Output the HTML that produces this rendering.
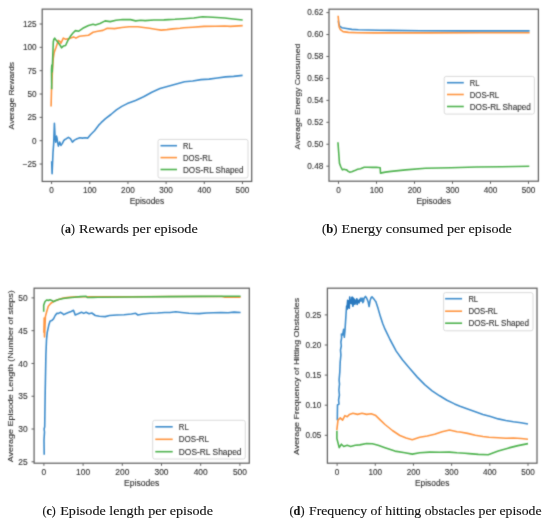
<!DOCTYPE html><html><head><meta charset="utf-8"><style>
html,body{margin:0;padding:0;background:#fff;}
body{width:550px;height:524px;overflow:hidden;}
svg{display:block;}
.t{font-family:"Liberation Sans", sans-serif;fill:#333;stroke:#333;stroke-width:0.12;}
.s{font-family:"Liberation Serif", serif;fill:#111;stroke:#111;stroke-width:0.12;}
</style></head><body>
<svg width="550" height="524" viewBox="0 0 550 524">
<defs><filter id="soft" x="0" y="0" width="550" height="524" filterUnits="userSpaceOnUse" color-interpolation-filters="sRGB"><feConvolveMatrix order="3" kernelMatrix="1 3 1 3 16 3 1 3 1" divisor="32" edgeMode="none"/></filter></defs>
<rect width="550" height="524" fill="#fff"/>
<g filter="url(#soft)">
<clipPath id="clipa"><rect x="42.20" y="9.15" width="209.50" height="172.30"/></clipPath>
<g clip-path="url(#clipa)" fill="none" stroke-width="1.60" stroke-linejoin="round" stroke-linecap="square">
<path d="M51.7,162.1 L52.1,173.8 L53.0,152.8 L53.7,143.4 L54.4,123.4 L55.0,135.4 L55.7,142.1 L56.4,136.1 L57.0,138.1 L57.7,142.8 L58.4,146.1 L59.7,142.1 L61.0,145.4 L62.4,143.4 L63.7,140.7 L65.1,139.4 L66.4,138.7 L68.4,137.4 L70.4,138.7 L72.4,142.1 L74.4,140.1 L77.1,138.7 L79.8,137.8 L82.4,138.1 L85.1,137.7 L87.8,138.1 L90.5,134.7 L94.5,130.7 L98.5,125.4 L101.1,122.7 L105.5,118.6 L110.9,114.5 L116.4,109.9 L121.8,106.4 L127.3,103.6 L135.5,100.4 L143.6,96.8 L151.8,92.2 L160.0,88.6 L168.2,86.2 L176.4,84.0 L184.5,81.8 L192.7,81.0 L200.9,79.6 L209.1,79.1 L217.3,78.0 L225.5,76.9 L233.6,76.4 L241.8,75.5" stroke="#3f8dcc"/>
<path d="M51.1,105.8 L51.5,90.0 L52.5,70.0 L53.3,58.0 L54.2,52.4 L55.9,47.8 L57.0,44.4 L58.2,40.4 L59.9,41.5 L61.0,43.2 L63.3,38.1 L65.6,39.2 L69.1,38.6 L73.6,36.9 L75.9,38.1 L79.4,36.3 L83.9,35.8 L88.5,35.2 L93.1,32.3 L97.7,31.2 L102.9,30.4 L107.3,28.2 L114.5,28.6 L121.8,27.5 L129.1,26.7 L137.8,26.7 L143.6,27.5 L149.5,28.2 L155.3,29.2 L161.1,30.1 L166.9,29.6 L172.7,28.9 L180.0,28.2 L183.7,27.7 L192.5,27.2 L204.1,26.4 L215.7,26.3 L224.5,26.0 L230.3,26.4 L241.9,25.7" stroke="#ff9540"/>
<path d="M51.7,88.5 L51.5,70.0 L51.8,65.0 L52.2,72.0 L52.8,55.0 L53.3,42.0 L53.8,39.5 L54.7,38.1 L55.5,39.5 L56.5,40.4 L58.7,43.2 L60.3,45.5 L61.6,47.8 L63.3,46.1 L65.6,45.5 L67.9,40.4 L70.8,35.8 L73.0,33.0 L75.4,30.6 L78.8,31.2 L82.8,28.3 L88.5,25.5 L93.1,24.3 L95.4,24.9 L100.0,23.5 L105.1,20.9 L110.2,21.6 L116.0,20.2 L122.5,19.5 L130.5,19.6 L135.6,20.9 L140.7,20.2 L145.1,20.6 L153.8,20.0 L164.0,19.9 L168.4,19.6 L175.0,19.3 L183.7,18.7 L193.9,18.0 L202.6,16.8 L212.8,17.3 L224.5,18.0 L233.2,19.0 L241.9,19.9" stroke="#4fb34f"/>
</g>
<rect x="42.20" y="9.15" width="209.50" height="172.30" fill="none" stroke="#616161" stroke-width="1.25"/>
<line x1="51.60" y1="181.45" x2="51.60" y2="184.05" stroke="#616161" stroke-width="1"/>
<text class="t" x="51.60" y="192.80" font-size="8.20" text-anchor="middle">0</text>
<line x1="89.77" y1="181.45" x2="89.77" y2="184.05" stroke="#616161" stroke-width="1"/>
<text class="t" x="89.77" y="192.80" font-size="8.20" text-anchor="middle">100</text>
<line x1="127.94" y1="181.45" x2="127.94" y2="184.05" stroke="#616161" stroke-width="1"/>
<text class="t" x="127.94" y="192.80" font-size="8.20" text-anchor="middle">200</text>
<line x1="166.11" y1="181.45" x2="166.11" y2="184.05" stroke="#616161" stroke-width="1"/>
<text class="t" x="166.11" y="192.80" font-size="8.20" text-anchor="middle">300</text>
<line x1="204.28" y1="181.45" x2="204.28" y2="184.05" stroke="#616161" stroke-width="1"/>
<text class="t" x="204.28" y="192.80" font-size="8.20" text-anchor="middle">400</text>
<line x1="242.45" y1="181.45" x2="242.45" y2="184.05" stroke="#616161" stroke-width="1"/>
<text class="t" x="242.45" y="192.80" font-size="8.20" text-anchor="middle">500</text>
<line x1="39.60" y1="164.04" x2="42.20" y2="164.04" stroke="#616161" stroke-width="1"/>
<text class="t" x="36.60" y="166.94" font-size="8.20" text-anchor="end">−25</text>
<line x1="39.60" y1="140.70" x2="42.20" y2="140.70" stroke="#616161" stroke-width="1"/>
<text class="t" x="36.60" y="143.60" font-size="8.20" text-anchor="end">0</text>
<line x1="39.60" y1="117.36" x2="42.20" y2="117.36" stroke="#616161" stroke-width="1"/>
<text class="t" x="36.60" y="120.26" font-size="8.20" text-anchor="end">25</text>
<line x1="39.60" y1="94.02" x2="42.20" y2="94.02" stroke="#616161" stroke-width="1"/>
<text class="t" x="36.60" y="96.92" font-size="8.20" text-anchor="end">50</text>
<line x1="39.60" y1="70.68" x2="42.20" y2="70.68" stroke="#616161" stroke-width="1"/>
<text class="t" x="36.60" y="73.58" font-size="8.20" text-anchor="end">75</text>
<line x1="39.60" y1="47.34" x2="42.20" y2="47.34" stroke="#616161" stroke-width="1"/>
<text class="t" x="36.60" y="50.24" font-size="8.20" text-anchor="end">100</text>
<line x1="39.60" y1="24.00" x2="42.20" y2="24.00" stroke="#616161" stroke-width="1"/>
<text class="t" x="36.60" y="26.90" font-size="8.20" text-anchor="end">125</text>
<text class="t" x="146.95" y="203.80" font-size="8.20" text-anchor="middle" textLength="34.47" lengthAdjust="spacingAndGlyphs">Episodes</text>
<text class="t" transform="translate(14.20 95.70) rotate(-90)" x="0" y="0" font-size="7.6" text-anchor="middle" textLength="67.4" lengthAdjust="spacingAndGlyphs">Average Rewards</text>
<rect x="158.00" y="139.40" width="90.00" height="38.60" rx="2" ry="2" fill="#fff" fill-opacity="0.8" stroke="#d6d6d6" stroke-width="0.9"/>
<line x1="160.50" y1="145.70" x2="177.00" y2="145.70" stroke="#3f8dcc" stroke-width="1.60"/>
<text class="t" x="183.00" y="148.70" font-size="8.20" textLength="9.62" lengthAdjust="spacingAndGlyphs">RL</text>
<line x1="160.50" y1="157.60" x2="177.00" y2="157.60" stroke="#ff9540" stroke-width="1.60"/>
<text class="t" x="183.00" y="160.60" font-size="8.20" textLength="29.23" lengthAdjust="spacingAndGlyphs">DOS-RL</text>
<line x1="160.50" y1="169.50" x2="177.00" y2="169.50" stroke="#4fb34f" stroke-width="1.60"/>
<text class="t" x="183.00" y="172.50" font-size="8.20" textLength="60.60" lengthAdjust="spacingAndGlyphs">DOS-RL Shaped</text>
<clipPath id="clipb"><rect x="329.00" y="9.20" width="209.40" height="172.00"/></clipPath>
<g clip-path="url(#clipb)" fill="none" stroke-width="1.60" stroke-linejoin="round" stroke-linecap="square">
<path d="M338.5,21.5 L338.7,23.1 L339.8,26.4 L342.0,27.7 L346.4,28.5 L351.8,29.4 L358.4,29.8 L368.2,30.0 L379.1,30.2 L390.0,30.4 L420.0,30.7 L460.0,30.9 L500.0,30.9 L528.8,30.9" stroke="#3f8dcc"/>
<path d="M338.2,16.5 L338.5,20.0 L338.7,24.2 L339.3,27.5 L340.4,29.6 L343.1,31.6 L348.5,32.4 L357.3,32.7 L373.6,32.9 L390.0,32.9 L430.0,32.9 L480.0,32.8 L528.8,32.8" stroke="#ff9540"/>
<path d="M338.0,143.0 L338.7,152.5 L339.5,163.4 L340.9,167.0 L342.4,169.9 L343.8,169.2 L345.3,169.6 L346.7,169.9 L348.2,171.4 L349.6,172.1 L351.8,171.7 L354.7,170.6 L357.6,169.2 L360.5,168.7 L364.2,167.3 L367.8,167.3 L372.2,167.4 L376.5,167.3 L380.2,167.7 L380.5,173.1 L385.3,172.1 L391.1,171.4 L398.4,170.6 L405.6,169.9 L425.4,168.3 L450.9,167.8 L476.3,167.0 L501.8,166.8 L528.5,166.3" stroke="#4fb34f"/>
</g>
<rect x="329.00" y="9.20" width="209.40" height="172.00" fill="none" stroke="#616161" stroke-width="1.25"/>
<line x1="338.50" y1="181.20" x2="338.50" y2="183.80" stroke="#616161" stroke-width="1"/>
<text class="t" x="338.50" y="192.80" font-size="8.23" text-anchor="middle">0</text>
<line x1="376.50" y1="181.20" x2="376.50" y2="183.80" stroke="#616161" stroke-width="1"/>
<text class="t" x="376.50" y="192.80" font-size="8.23" text-anchor="middle">100</text>
<line x1="414.50" y1="181.20" x2="414.50" y2="183.80" stroke="#616161" stroke-width="1"/>
<text class="t" x="414.50" y="192.80" font-size="8.23" text-anchor="middle">200</text>
<line x1="452.50" y1="181.20" x2="452.50" y2="183.80" stroke="#616161" stroke-width="1"/>
<text class="t" x="452.50" y="192.80" font-size="8.23" text-anchor="middle">300</text>
<line x1="490.50" y1="181.20" x2="490.50" y2="183.80" stroke="#616161" stroke-width="1"/>
<text class="t" x="490.50" y="192.80" font-size="8.23" text-anchor="middle">400</text>
<line x1="528.50" y1="181.20" x2="528.50" y2="183.80" stroke="#616161" stroke-width="1"/>
<text class="t" x="528.50" y="192.80" font-size="8.23" text-anchor="middle">500</text>
<line x1="326.40" y1="166.18" x2="329.00" y2="166.18" stroke="#616161" stroke-width="1"/>
<text class="t" x="323.30" y="168.68" font-size="8.23" text-anchor="end">0.48</text>
<line x1="326.40" y1="144.24" x2="329.00" y2="144.24" stroke="#616161" stroke-width="1"/>
<text class="t" x="323.30" y="146.74" font-size="8.23" text-anchor="end">0.50</text>
<line x1="326.40" y1="122.30" x2="329.00" y2="122.30" stroke="#616161" stroke-width="1"/>
<text class="t" x="323.30" y="124.80" font-size="8.23" text-anchor="end">0.52</text>
<line x1="326.40" y1="100.36" x2="329.00" y2="100.36" stroke="#616161" stroke-width="1"/>
<text class="t" x="323.30" y="102.86" font-size="8.23" text-anchor="end">0.54</text>
<line x1="326.40" y1="78.42" x2="329.00" y2="78.42" stroke="#616161" stroke-width="1"/>
<text class="t" x="323.30" y="80.92" font-size="8.23" text-anchor="end">0.56</text>
<line x1="326.40" y1="56.48" x2="329.00" y2="56.48" stroke="#616161" stroke-width="1"/>
<text class="t" x="323.30" y="58.98" font-size="8.23" text-anchor="end">0.58</text>
<line x1="326.40" y1="34.54" x2="329.00" y2="34.54" stroke="#616161" stroke-width="1"/>
<text class="t" x="323.30" y="37.04" font-size="8.23" text-anchor="end">0.60</text>
<line x1="326.40" y1="12.60" x2="329.00" y2="12.60" stroke="#616161" stroke-width="1"/>
<text class="t" x="323.30" y="15.10" font-size="8.23" text-anchor="end">0.62</text>
<text class="t" x="433.70" y="203.80" font-size="8.23" text-anchor="middle" textLength="34.61" lengthAdjust="spacingAndGlyphs">Episodes</text>
<text class="t" transform="translate(299.60 96.55) rotate(-90)" x="0" y="0" font-size="7.6" text-anchor="middle" textLength="105.8" lengthAdjust="spacingAndGlyphs">Average Energy Consumed</text>
<rect x="444.20" y="76.40" width="90.20" height="37.70" rx="2" ry="2" fill="#fff" fill-opacity="0.8" stroke="#d6d6d6" stroke-width="0.9"/>
<line x1="447.00" y1="82.70" x2="463.80" y2="82.70" stroke="#3f8dcc" stroke-width="1.60"/>
<text class="t" x="469.70" y="85.70" font-size="8.23" textLength="9.71" lengthAdjust="spacingAndGlyphs">RL</text>
<line x1="447.00" y1="94.50" x2="463.80" y2="94.50" stroke="#ff9540" stroke-width="1.60"/>
<text class="t" x="469.70" y="97.50" font-size="8.23" textLength="29.52" lengthAdjust="spacingAndGlyphs">DOS-RL</text>
<line x1="447.00" y1="106.50" x2="463.80" y2="106.50" stroke="#4fb34f" stroke-width="1.60"/>
<text class="t" x="469.70" y="109.50" font-size="8.23" textLength="61.20" lengthAdjust="spacingAndGlyphs">DOS-RL Shaped</text>
<clipPath id="clipc"><rect x="34.10" y="288.20" width="215.20" height="175.00"/></clipPath>
<g clip-path="url(#clipc)" fill="none" stroke-width="1.60" stroke-linejoin="round" stroke-linecap="square">
<path d="M44.2,454.0 L44.0,440.0 L44.5,432.0 L44.1,429.0 L44.7,426.8 L45.2,392.0 L45.9,354.8 L46.5,340.0 L47.2,332.7 L48.9,324.7 L50.0,321.2 L51.7,320.6 L53.5,318.9 L55.2,315.5 L56.9,313.2 L58.6,313.4 L60.3,312.3 L62.0,313.2 L63.8,314.6 L65.5,313.8 L68.4,312.6 L71.2,311.5 L73.5,310.3 L75.2,314.9 L78.1,313.8 L81.5,312.3 L83.8,313.4 L86.1,312.3 L89.0,313.8 L91.8,313.0 L95.3,315.5 L99.4,316.2 L105.2,316.6 L109.5,315.5 L116.8,315.0 L124.1,314.7 L131.4,314.0 L135.7,313.3 L137.9,315.0 L143.0,314.0 L150.3,313.3 L157.5,313.0 L164.8,312.5 L170.0,312.5 L175.8,311.8 L181.6,312.5 L188.9,313.3 L199.1,313.6 L206.4,313.0 L213.6,312.8 L220.9,312.5 L228.2,312.8 L234.0,312.1 L239.8,312.5" stroke="#3f8dcc"/>
<path d="M43.9,332.0 L44.2,318.0 L44.5,337.0 L45.0,326.0 L45.4,316.6 L46.6,312.0 L48.3,306.3 L50.6,303.5 L54.0,301.2 L58.6,299.5 L63.2,298.1 L68.9,297.4 L75.8,296.9 L83.8,296.7 L90.7,296.8 L98.0,296.9 L130.0,296.8 L170.0,296.5 L222.0,296.5 L225.0,297.2 L239.8,297.3" stroke="#ff9540"/>
<path d="M43.7,310.9 L43.7,305.2 L44.9,301.7 L46.6,300.0 L48.3,300.4 L50.0,299.7 L51.7,300.4 L53.5,301.7 L55.2,300.8 L58.6,299.5 L63.2,298.5 L68.9,297.7 L74.7,297.2 L80.4,296.6 L86.1,296.2 L87.3,297.5 L93.0,297.4 L98.0,297.3 L130.0,297.0 L170.0,296.6 L200.0,296.4 L239.8,296.3" stroke="#4fb34f"/>
</g>
<rect x="34.10" y="288.20" width="215.20" height="175.00" fill="none" stroke="#616161" stroke-width="1.25"/>
<line x1="43.90" y1="463.20" x2="43.90" y2="465.80" stroke="#616161" stroke-width="1"/>
<text class="t" x="43.90" y="474.80" font-size="8.41" text-anchor="middle">0</text>
<line x1="83.10" y1="463.20" x2="83.10" y2="465.80" stroke="#616161" stroke-width="1"/>
<text class="t" x="83.10" y="474.80" font-size="8.41" text-anchor="middle">100</text>
<line x1="122.30" y1="463.20" x2="122.30" y2="465.80" stroke="#616161" stroke-width="1"/>
<text class="t" x="122.30" y="474.80" font-size="8.41" text-anchor="middle">200</text>
<line x1="161.50" y1="463.20" x2="161.50" y2="465.80" stroke="#616161" stroke-width="1"/>
<text class="t" x="161.50" y="474.80" font-size="8.41" text-anchor="middle">300</text>
<line x1="200.70" y1="463.20" x2="200.70" y2="465.80" stroke="#616161" stroke-width="1"/>
<text class="t" x="200.70" y="474.80" font-size="8.41" text-anchor="middle">400</text>
<line x1="239.90" y1="463.20" x2="239.90" y2="465.80" stroke="#616161" stroke-width="1"/>
<text class="t" x="239.90" y="474.80" font-size="8.41" text-anchor="middle">500</text>
<line x1="31.50" y1="461.80" x2="34.10" y2="461.80" stroke="#616161" stroke-width="1"/>
<text class="t" x="27.60" y="465.00" font-size="8.41" text-anchor="end">25</text>
<line x1="31.50" y1="429.02" x2="34.10" y2="429.02" stroke="#616161" stroke-width="1"/>
<text class="t" x="27.60" y="432.22" font-size="8.41" text-anchor="end">30</text>
<line x1="31.50" y1="396.24" x2="34.10" y2="396.24" stroke="#616161" stroke-width="1"/>
<text class="t" x="27.60" y="399.44" font-size="8.41" text-anchor="end">35</text>
<line x1="31.50" y1="363.46" x2="34.10" y2="363.46" stroke="#616161" stroke-width="1"/>
<text class="t" x="27.60" y="366.66" font-size="8.41" text-anchor="end">40</text>
<line x1="31.50" y1="330.68" x2="34.10" y2="330.68" stroke="#616161" stroke-width="1"/>
<text class="t" x="27.60" y="333.88" font-size="8.41" text-anchor="end">45</text>
<line x1="31.50" y1="297.90" x2="34.10" y2="297.90" stroke="#616161" stroke-width="1"/>
<text class="t" x="27.60" y="301.10" font-size="8.41" text-anchor="end">50</text>
<text class="t" x="141.70" y="486.20" font-size="8.41" text-anchor="middle" textLength="35.36" lengthAdjust="spacingAndGlyphs">Episodes</text>
<text class="t" transform="translate(12.50 376.20) rotate(-90)" x="0" y="0" font-size="7.6" text-anchor="middle" textLength="172.0" lengthAdjust="spacingAndGlyphs">Average Episode Length (Number of steps)</text>
<rect x="152.70" y="420.30" width="92.60" height="38.70" rx="2" ry="2" fill="#fff" fill-opacity="0.8" stroke="#d6d6d6" stroke-width="0.9"/>
<line x1="155.30" y1="426.80" x2="172.70" y2="426.80" stroke="#3f8dcc" stroke-width="1.60"/>
<text class="t" x="178.80" y="429.80" font-size="8.41" textLength="9.95" lengthAdjust="spacingAndGlyphs">RL</text>
<line x1="155.30" y1="439.30" x2="172.70" y2="439.30" stroke="#ff9540" stroke-width="1.60"/>
<text class="t" x="178.80" y="442.30" font-size="8.41" textLength="30.24" lengthAdjust="spacingAndGlyphs">DOS-RL</text>
<line x1="155.30" y1="451.70" x2="172.70" y2="451.70" stroke="#4fb34f" stroke-width="1.60"/>
<text class="t" x="178.80" y="454.70" font-size="8.41" textLength="62.70" lengthAdjust="spacingAndGlyphs">DOS-RL Shaped</text>
<clipPath id="clipd"><rect x="327.40" y="288.20" width="209.60" height="175.00"/></clipPath>
<g clip-path="url(#clipd)" fill="none" stroke-width="1.60" stroke-linejoin="round" stroke-linecap="square">
<path d="M337.3,419.5 L337.5,405.0 L339.0,404.0 L338.6,400.0 L339.4,395.0 L338.9,390.0 L339.5,384.0 L339.1,380.0 L339.8,372.0 L340.2,362.0 L340.9,355.0 L340.5,350.0 L341.3,346.0 L340.9,342.0 L341.6,338.0 L341.4,334.0 L342.6,335.0 L343.7,329.2 L344.3,337.3 L344.9,331.5 L345.5,322.4 L346.0,314.7 L346.6,306.1 L347.1,309.1 L347.6,300.4 L348.1,307.7 L348.6,300.9 L349.3,308.1 L349.7,297.1 L350.3,303.3 L350.6,300.1 L351.3,303.5 L351.9,297.3 L352.2,304.0 L352.5,297.4 L352.9,306.2 L353.4,298.3 L354.0,304.1 L354.6,299.3 L355.1,304.0 L355.5,300.6 L356.2,302.7 L356.8,298.8 L357.2,304.5 L357.5,300.0 L358.0,302.6 L358.5,300.5 L359.1,302.8 L359.5,299.7 L360.0,300.8 L360.4,298.3 L361.0,301.2 L361.4,298.3 L361.8,300.8 L362.4,298.4 L362.8,302.6 L363.1,299.5 L363.5,301.6 L364.0,298.5 L364.6,297.5 L365.5,296.4 L366.7,298.3 L368.2,302.0 L369.1,306.5 L370.1,300.6 L371.2,297.5 L372.0,296.9 L373.5,298.5 L374.9,300.4 L375.8,301.5 L378.1,308.6 L380.4,316.6 L382.7,323.5 L385.0,329.2 L387.3,333.8 L390.0,339.5 L396.2,351.1 L402.4,359.8 L409.8,368.5 L417.3,377.1 L424.7,384.6 L432.1,390.8 L439.6,395.8 L447.0,400.2 L454.5,403.9 L460.0,406.2 L467.6,409.0 L475.3,411.8 L482.9,414.4 L490.5,416.6 L498.2,418.9 L505.8,420.5 L513.4,421.7 L521.1,422.7 L527.2,423.8" stroke="#3f8dcc"/>
<path d="M346.6,306.1 L347.1,309.1 L347.6,300.4 L348.1,307.7 L348.6,300.9 L349.3,308.1 L349.7,297.1 L350.3,303.3 L350.6,300.1 L351.3,303.5 L351.9,297.3 L352.2,304.0 L352.5,297.4 L352.9,306.2 L353.4,298.3 L354.0,304.1 L354.6,299.3 L355.1,304.0 L355.5,300.6 L356.2,302.7 L356.8,298.8 L357.2,304.5 L357.5,300.0 L358.0,302.6 L358.5,300.5 L359.1,302.8 L359.5,299.7 L360.0,300.8" stroke="#2a79bf" stroke-width="1.1"/>
<path d="M336.9,429.3 L338.0,420.1 L340.3,417.9 L342.6,420.1 L344.9,415.6 L347.2,416.7 L349.5,414.4 L352.9,413.3 L357.5,414.4 L362.0,413.3 L366.6,414.4 L371.2,413.7 L375.8,415.6 L380.4,420.1 L385.0,424.5 L392.4,430.5 L399.9,435.5 L406.1,437.9 L412.3,439.7 L419.7,437.2 L427.2,436.0 L434.6,434.2 L442.1,431.7 L449.5,430.0 L457.0,431.7 L460.0,432.0 L467.6,433.4 L475.3,435.3 L482.9,436.5 L489.0,437.3 L498.2,437.7 L505.8,438.3 L513.4,438.0 L521.1,438.5 L527.2,439.1" stroke="#ff9540"/>
<path d="M336.9,431.6 L336.9,438.5 L339.2,447.6 L341.4,444.2 L343.7,446.5 L347.2,445.3 L350.6,446.5 L355.2,445.3 L359.8,444.9 L366.6,443.5 L372.4,443.7 L378.1,445.3 L385.0,447.7 L394.9,451.1 L404.9,452.8 L412.3,454.1 L419.7,452.8 L429.7,452.1 L439.6,452.3 L449.5,452.1 L457.0,452.8 L464.9,453.2 L469.2,453.6 L478.3,454.4 L488.2,454.8 L498.2,451.0 L508.9,447.9 L518.0,445.6 L527.2,443.8" stroke="#4fb34f"/>
</g>
<rect x="327.40" y="288.20" width="209.60" height="175.00" fill="none" stroke="#616161" stroke-width="1.25"/>
<line x1="337.10" y1="463.20" x2="337.10" y2="465.80" stroke="#616161" stroke-width="1"/>
<text class="t" x="337.10" y="474.80" font-size="8.17" text-anchor="middle">0</text>
<line x1="375.28" y1="463.20" x2="375.28" y2="465.80" stroke="#616161" stroke-width="1"/>
<text class="t" x="375.28" y="474.80" font-size="8.17" text-anchor="middle">100</text>
<line x1="413.46" y1="463.20" x2="413.46" y2="465.80" stroke="#616161" stroke-width="1"/>
<text class="t" x="413.46" y="474.80" font-size="8.17" text-anchor="middle">200</text>
<line x1="451.64" y1="463.20" x2="451.64" y2="465.80" stroke="#616161" stroke-width="1"/>
<text class="t" x="451.64" y="474.80" font-size="8.17" text-anchor="middle">300</text>
<line x1="489.82" y1="463.20" x2="489.82" y2="465.80" stroke="#616161" stroke-width="1"/>
<text class="t" x="489.82" y="474.80" font-size="8.17" text-anchor="middle">400</text>
<line x1="528.00" y1="463.20" x2="528.00" y2="465.80" stroke="#616161" stroke-width="1"/>
<text class="t" x="528.00" y="474.80" font-size="8.17" text-anchor="middle">500</text>
<line x1="324.80" y1="435.30" x2="327.40" y2="435.30" stroke="#616161" stroke-width="1"/>
<text class="t" x="321.30" y="438.20" font-size="8.17" text-anchor="end">0.05</text>
<line x1="324.80" y1="405.20" x2="327.40" y2="405.20" stroke="#616161" stroke-width="1"/>
<text class="t" x="321.30" y="408.10" font-size="8.17" text-anchor="end">0.10</text>
<line x1="324.80" y1="375.10" x2="327.40" y2="375.10" stroke="#616161" stroke-width="1"/>
<text class="t" x="321.30" y="378.00" font-size="8.17" text-anchor="end">0.15</text>
<line x1="324.80" y1="345.00" x2="327.40" y2="345.00" stroke="#616161" stroke-width="1"/>
<text class="t" x="321.30" y="347.90" font-size="8.17" text-anchor="end">0.20</text>
<line x1="324.80" y1="314.90" x2="327.40" y2="314.90" stroke="#616161" stroke-width="1"/>
<text class="t" x="321.30" y="317.80" font-size="8.17" text-anchor="end">0.25</text>
<text class="t" x="432.20" y="486.20" font-size="8.17" text-anchor="middle" textLength="34.34" lengthAdjust="spacingAndGlyphs">Episodes</text>
<text class="t" transform="translate(298.80 376.40) rotate(-90)" x="0" y="0" font-size="7.6" text-anchor="middle" textLength="157.0" lengthAdjust="spacingAndGlyphs">Average Frequency of Hitting Obstacles</text>
<rect x="443.60" y="292.60" width="89.40" height="38.20" rx="2" ry="2" fill="#fff" fill-opacity="0.8" stroke="#d6d6d6" stroke-width="0.9"/>
<line x1="445.10" y1="298.70" x2="462.10" y2="298.70" stroke="#3f8dcc" stroke-width="1.60"/>
<text class="t" x="468.40" y="301.70" font-size="8.17" textLength="9.63" lengthAdjust="spacingAndGlyphs">RL</text>
<line x1="445.10" y1="311.20" x2="462.10" y2="311.20" stroke="#ff9540" stroke-width="1.60"/>
<text class="t" x="468.40" y="314.20" font-size="8.17" textLength="29.28" lengthAdjust="spacingAndGlyphs">DOS-RL</text>
<line x1="445.10" y1="323.20" x2="462.10" y2="323.20" stroke="#4fb34f" stroke-width="1.60"/>
<text class="t" x="468.40" y="326.20" font-size="8.17" textLength="60.70" lengthAdjust="spacingAndGlyphs">DOS-RL Shaped</text>
</g>
<text class="s" x="61.10" y="232.80" font-size="12.2" textLength="13.7" lengthAdjust="spacingAndGlyphs">(<tspan font-weight="bold">a</tspan>)</text>
<text class="s" x="79.00" y="232.80" font-size="12.2" textLength="118.8" lengthAdjust="spacingAndGlyphs">Rewards per episode</text>
<text class="s" x="322.00" y="232.80" font-size="12.2" textLength="15.5" lengthAdjust="spacingAndGlyphs">(<tspan font-weight="bold">b</tspan>)</text>
<text class="s" x="341.60" y="232.80" font-size="12.2" textLength="170.3" lengthAdjust="spacingAndGlyphs">Energy consumed per episode</text>
<text class="s" x="42.50" y="514.60" font-size="12.2" textLength="13.2" lengthAdjust="spacingAndGlyphs">(<tspan font-weight="bold">c</tspan>)</text>
<text class="s" x="60.20" y="514.60" font-size="12.2" textLength="152.8" lengthAdjust="spacingAndGlyphs">Episode length per episode</text>
<text class="s" x="289.50" y="514.60" font-size="12.2" textLength="15.0" lengthAdjust="spacingAndGlyphs">(<tspan font-weight="bold">d</tspan>)</text>
<text class="s" x="309.00" y="514.60" font-size="12.2" textLength="232.5" lengthAdjust="spacingAndGlyphs">Frequency of hitting obstacles per episode</text>
</svg></body></html>
